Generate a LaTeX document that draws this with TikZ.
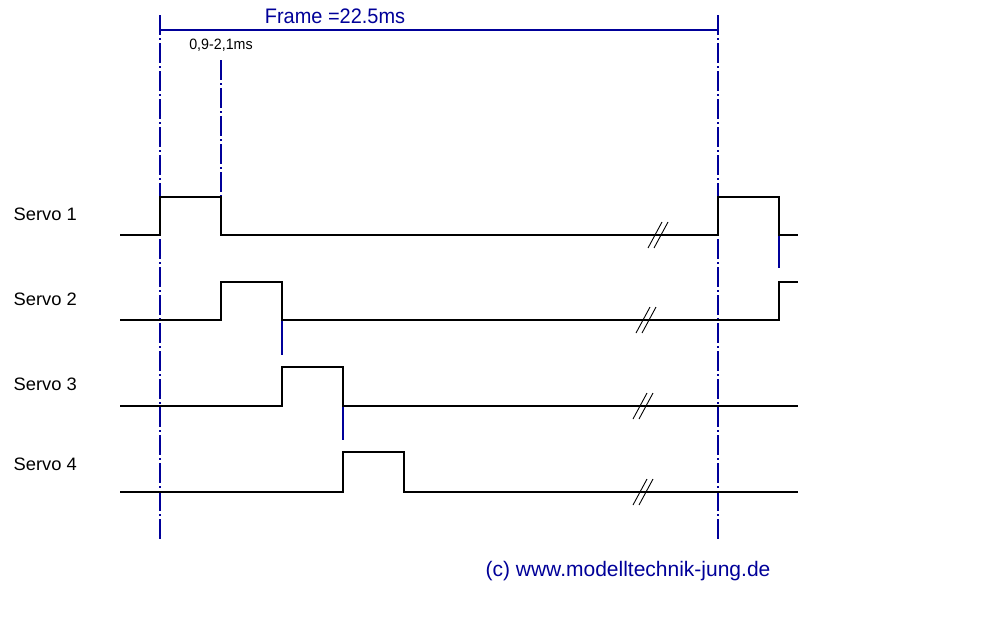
\documentclass[tikz,border=0pt]{standalone}
\usepackage{fontspec}
\setmainfont{Liberation Sans}
\begin{document}
\begin{tikzpicture}[x=1pt,y=-1pt,
  sig/.style={line width=1.5pt,black},
  guide/.style={blue!60!black,line width=1.1pt,dash pattern=on 20pt off 3pt on 2pt off 3pt},
  bluel/.style={blue!60!black,line width=1.2pt},
  lbl/.style={anchor=west,font=\fontsize{18}{20}\selectfont},
  brk/.style={line width=0.9pt}]
\useasboundingbox (0,0) rectangle (998,624);
\fill[white] (0,0) rectangle (998,624);
% guides
\draw[guide] (160,15) -- (160,540);
\draw[guide] (718,15) -- (718,540);
\draw[guide] (221,60) -- (221,197);
\draw[bluel] (160,30) -- (718,30);
\draw[bluel] (282,320) -- (282,355);
\draw[bluel] (343,406) -- (343,440);
\draw[bluel] (779,235) -- (779,268);
% signals
\draw[sig] (120,235) -- (160,235) -- (160,197) -- (221,197) -- (221,235) -- (718,235) -- (718,197) -- (779,197) -- (779,235) -- (798,235);
\draw[sig] (120,320) -- (221,320) -- (221,282) -- (282,282) -- (282,320) -- (779,320) -- (779,282) -- (798,282);
\draw[sig] (120,406) -- (282,406) -- (282,367) -- (343,367) -- (343,406) -- (798,406);
\draw[sig] (120,492) -- (343,492) -- (343,452) -- (404,452) -- (404,492) -- (798,492);
% breaks
\foreach \x/\y in {660/235,648/320,645/406,645/492}{
  \draw[brk] (\x-12,\y+13) -- (\x+2,\y-13);
  \draw[brk] (\x-6,\y+13) -- (\x+8,\y-13);
}
% texts
\node[lbl,xscale=1.02] (s1) at (10,214) {Servo 1};
\node[lbl,xscale=1.02] (s2) at (10,299) {Servo 2};
\node[lbl,xscale=1.02] (s3) at (10,384) {Servo 3};
\node[lbl,xscale=1.02] (s4) at (10,464) {Servo 4};
\node[blue!60!black,font=\fontsize{21}{23}\selectfont,xscale=0.95] (fr) at (335,16) {Frame =22.5ms};
\node[font=\fontsize{15}{17}\selectfont,xscale=0.95] (pw) at (221,45) {0,9-2,1ms};
\node[blue!60!black,font=\fontsize{21}{23}\selectfont,xscale=1.0] (cp) at (628,571) {(c) www.modelltechnik-jung.de};
\end{tikzpicture}
\end{document}
